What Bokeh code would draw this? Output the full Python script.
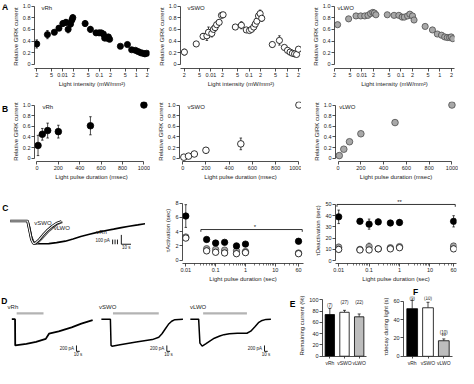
import math
from bokeh.plotting import figure
from bokeh.layouts import column, row
from bokeh.models import (ColumnDataSource, Whisker, TeeHead, FixedTicker,
                          Range1d, FactorRange)
from bokeh.core.properties import value
from bokeh.embed import file_html
from bokeh.resources import INLINE

FONT = "Liberation Sans"
TXT = "#222222"
SX = 458 / 474
SY = 368 / 384

# ---------------- data: panel A (relative GIRK current vs light intensity) ----------------
a_rh_int = [0.002, 0.0039, 0.006, 0.008, 0.0102, 0.0124, 0.0142, 0.0165, 0.018, 0.019,
            0.041, 0.057, 0.081, 0.098, 0.112, 0.128, 0.139, 0.159, 0.175, 0.189,
            0.37, 0.575, 0.75, 0.95, 1.12, 1.31, 1.5, 1.71, 1.92]
a_rh_val = [0.35, 0.51, 0.55, 0.62, 0.70, 0.72, 0.60, 0.69, 0.76, 0.80,
            0.70, 0.60, 0.54, 0.54, 0.54, 0.52, 0.45, 0.45, 0.47, 0.43,
            0.31, 0.34, 0.25, 0.24, 0.22, 0.20, 0.19, 0.18, 0.19]
a_rh_err = [0.07, 0.07, 0.04, 0.04, 0.05, 0.05, 0.06, 0.05, 0.04, 0.05,
            0.05, 0.05, 0.03, 0.03, 0.03, 0.03, 0.04, 0.03, 0.04, 0.03,
            0.03, 0.04, 0.02, 0.02, 0.02, 0.02, 0.02, 0.03, 0.03]

a_swo_int = [0.002, 0.0041, 0.0062, 0.0078, 0.0086, 0.0105, 0.0116, 0.0128, 0.0141, 0.0164,
             0.0189, 0.0208, 0.0437, 0.063, 0.085, 0.103, 0.116, 0.133, 0.146, 0.161,
             0.178, 0.196, 0.216, 0.41, 0.63, 0.85, 1.03, 1.2, 1.38, 1.58, 1.78, 2.0]
a_swo_val = [0.21, 0.35, 0.48, 0.49, 0.55, 0.53, 0.60, 0.63, 0.68, 0.72,
             0.84, 0.85, 0.64, 0.67, 0.59, 0.58, 0.60, 0.64, 0.69, 0.74,
             0.83, 0.87, 0.79, 0.34, 0.41, 0.29, 0.24, 0.21, 0.19, 0.18, 0.17, 0.26]
a_swo_err = [0.05, 0.04, 0.05, 0.08, 0.09, 0.06, 0.04, 0.04, 0.04, 0.04,
             0.03, 0.03, 0.03, 0.06, 0.04, 0.03, 0.03, 0.03, 0.03, 0.04,
             0.05, 0.06, 0.05, 0.04, 0.08, 0.03, 0.02, 0.02, 0.02, 0.02, 0.02, 0.03]

a_lwo_int = [0.0024, 0.0046, 0.0071, 0.0094, 0.0119, 0.0144, 0.0167, 0.0191, 0.021, 0.023,
             0.045, 0.067, 0.089, 0.108, 0.123, 0.149, 0.170, 0.199, 0.218,
             0.42, 0.645, 0.86, 1.1, 1.33, 1.55, 1.77, 1.95, 2.14]
a_lwo_val = [0.68, 0.78, 0.83, 0.83, 0.83, 0.84, 0.87, 0.89, 0.88, 0.85,
             0.85, 0.84, 0.84, 0.81, 0.81, 0.83, 0.86, 0.83, 0.76,
             0.65, 0.59, 0.52, 0.50, 0.47, 0.46, 0.46, 0.47, 0.44]
a_lwo_err = [0.02, 0.02, 0.02, 0.02, 0.02, 0.02, 0.02, 0.02, 0.02, 0.02,
             0.02, 0.02, 0.02, 0.02, 0.02, 0.02, 0.02, 0.02, 0.02,
             0.02, 0.02, 0.02, 0.02, 0.02, 0.02, 0.02, 0.02, 0.02]

a_ticks = [0.002, 0.005, 0.01, 0.02, 0.05, 0.1, 0.2, 0.5, 1.0, 2.0]
a_tick_labels = ["2", "5", "0.01", "2", "5", "0.1", "2", "5", "1", "2"]
rel_ticks = [0.0, 0.2, 0.4, 0.6, 0.8, 1.0]
rel_tick_labels = ["0", "0.2", "0.4", "0.6", "0.8", "1.0"]

# ---------------- data: panel B (relative current vs pulse duration) ----------------
b_dur = [10, 50, 100, 200, 500, 1000]
b_rh_val = [0.24, 0.45, 0.52, 0.50, 0.61, 1.0]
b_rh_err = [0.19, 0.11, 0.14, 0.12, 0.17, 0.0]
b_swo_val = [0.02, 0.04, 0.08, 0.15, 0.27, 1.0]
b_swo_err = [0.01, 0.01, 0.02, 0.05, 0.11, 0.0]
b_lwo_val = [0.05, 0.17, 0.31, 0.46, 0.67, 1.0]
b_lwo_err = [0.01, 0.02, 0.02, 0.02, 0.02, 0.0]
b_ticks = [0, 200, 400, 600, 800, 1000]

# ---------------- data: panel C traces (s, pA) ----------------
c_rh_t = [-18, 0, 2, 4, 6, 9, 14, 22, 30, 39, 47, 55, 64, 72, 80, 89, 97, 105, 114, 122]
c_rh_i = [0, 0, -60, -160, -220, -244, -243, -242, -232, -216, -193, -167, -143, -122,
          -104, -87, -71, -56, -42, -29]
c_swo_t = [-18, 0, 2, 4, 6, 8, 12, 16, 20, 25, 30, 35]
c_swo_i = [0, 0, -100, -200, -240, -238, -200, -150, -105, -60, -25, -5]
c_lwo_t = [0, 2, 4, 7, 10, 14, 18, 22, 27, 31, 36]
c_lwo_i = [0, -90, -190, -242, -235, -195, -150, -105, -62, -30, -10]
c_bar_pA = 100
c_bar_s = 10

# ---------------- data: panel C time constants ----------------
c_dur = [0.01, 0.05, 0.1, 0.2, 0.5, 1.0, 60.0]
act_rh = [6.2, 2.9, 2.4, 2.5, 2.0, 2.25, 2.65]
act_rh_err = [1.6, 0.2, 0.2, 0.2, 0.2, 0.2, 0.3]
act_swo = [3.1, 1.3, 1.1, 1.0, 0.9, 1.05, 0.9]
act_swo_err = [0.3, 0.2, 0.2, 0.1, 0.1, 0.1, 0.1]
act_lwo = [3.25, 1.6, 1.5, 1.4, 1.3, 1.2, 1.0]
act_lwo_err = [0.3, 0.2, 0.2, 0.2, 0.2, 0.2, 0.2]
deact_rh = [39, 35, 32.5, 34.5, 33.5, 34, 35]
deact_rh_err = [6, 1.5, 4.5, 2.5, 1.5, 2.5, 5]
deact_swo = [10, 9.5, 9.5, 10.5, 10.5, 11.5, 10.5]
deact_swo_err = [2, 1, 1, 1, 1, 1, 1]
deact_lwo = [12, 10, 12.5, 10.5, 11.5, 12.5, 13]
deact_lwo_err = [2.5, 1, 3, 1, 1.5, 1, 1]
c_ticks = [0.01, 0.1, 1.0, 10.0, 60.0]
c_tick_labels = ["0.01", "0.1", "1", "10", "60"]
c_minor = [0.02, 0.03, 0.04, 0.05, 0.06, 0.07, 0.08, 0.09, 0.2, 0.3, 0.4, 0.5, 0.6, 0.7,
           0.8, 0.9, 2, 3, 4, 5, 6, 7, 8, 9, 20, 30, 40, 50]
act_sig = ([0.032, 80.0], 4.3, "*")
deact_sig = ([0.0088, 68.0], 50.0, "**")

# ---------------- data: panel D traces (s, pA) ----------------
d_rh_t = [-10, 0, 0.5, 35, 65, 95, 105, 135, 175, 205, 240]
d_rh_i = [0, 0, -896, -840, -776, -672, -496, -416, -280, -152, -32]
d_swo_t = [-28, 0, 2, 5, 30, 80, 130, 150, 160, 170, 180, 190, 200, 225]
d_swo_i = [0, 0, -896, -920, -872, -776, -696, -616, -496, -336, -176, -72, -16, 0]
d_lwo_t = [-26, 0, 4, 11, 22, 36, 49, 66, 79, 96, 121, 151, 163, 176, 187, 196, 211, 226]
d_lwo_i = [0, 0, -816, -920, -840, -736, -648, -576, -528, -496, -480, -480, -408, -256,
           -120, -56, -8, 0]
d_light = {"vRh": (5, 88), "vSWO": (8, 150), "vLWO": (14, 151)}
d_bar_pA = 200
d_bar_s = 10

# ---------------- data: panels E, F ----------------
cats = ["vRh", "vSWO", "vLWO"]
bar_colors = ["#000000", "#ffffff", "#bdbdbd"]
e_val = [74, 78, 70]
e_err = [11, 3.5, 5]
e_n = ["(7)", "(27)", "(22)"]
f_val = [52, 53, 17]
f_err = [9, 6, 2]
f_n = ["(9)", "(10)", "(10)"]
e_ticks = [0, 20, 40, 60, 80, 100]
f_ticks = [0, 20, 40, 60]


# ---------------- helpers ----------------
def make_fig(box, frame, x_range, y_range, x_type="auto", axes=True):
    x0, y0, x1, y1 = box
    w = round(x1 * SX) - round(x0 * SX)
    h = round(y1 * SY) - round(y0 * SY)
    if frame is None:
        bl = bt = br = bb = 0
    else:
        fl, ft, fr, fb = frame
        bl = round(fl * SX)
        bt = round(ft * SY)
        br = w - round(fr * SX)
        bb = h - round(fb * SY)
    kw = dict(width=w, height=h, x_range=x_range, y_range=y_range, x_axis_type=x_type,
              toolbar_location=None, output_backend="svg",
              min_border_left=bl, min_border_right=br, min_border_top=bt,
              min_border_bottom=bb)
    if not axes:
        kw.update(x_axis_location=None, y_axis_location=None)
    p = figure(**kw)
    p.outline_line_color = None
    p.grid.visible = False
    for ax in p.axis:
        ax.axis_line_width = 0.8
        ax.axis_line_color = TXT
        ax.major_tick_line_color = TXT
        ax.minor_tick_line_color = TXT
        ax.major_tick_line_width = 0.8
        ax.minor_tick_line_width = 0.6
        ax.major_tick_in = 0
        ax.major_tick_out = 3
        ax.minor_tick_in = 0
        ax.minor_tick_out = 0
        ax.major_label_text_font = FONT
        ax.major_label_text_font_size = "5.5px"
        ax.major_label_text_color = TXT
        ax.axis_label_text_font = FONT
        ax.axis_label_text_font_size = "6px"
        ax.axis_label_text_font_style = "normal"
        ax.axis_label_text_color = TXT
        ax.major_label_standoff = 1
        ax.axis_label_standoff = 1
    return p


def letter_strip(box, letter_txt, cx, cy):
    """Axis-free strip that carries a bold panel letter (cx, cy in reference px)."""
    x0, y0, x1, y1 = box
    p = make_fig(box, None, Range1d(0, x1 - x0), Range1d(y1 - y0, 0), x_type="linear", axes=False)
    p.text(x=[cx - x0], y=[cy - y0], text=[letter_txt], text_font=value(FONT),
           text_font_size="8.5px", text_font_style="bold", text_align="center",
           text_baseline="middle", text_color="black")
    return p


def ticks(axis, vals, labels, minor=None):
    axis.ticker = FixedTicker(ticks=vals, minor_ticks=minor or [])
    axis.major_label_overrides = {v: l for v, l in zip(vals, labels)}


def errbars(p, xs, ys, es, upper_only=False, head=2.5):
    keep = [(x, y, e) for x, y, e in zip(xs, ys, es) if e > 0]
    xs = [k[0] for k in keep]
    ys = [k[1] for k in keep]
    es = [k[2] for k in keep]
    lo = list(ys) if upper_only else [y - e for y, e in zip(ys, es)]
    src = ColumnDataSource(dict(base=list(xs), lo=lo, hi=[y + e for y, e in zip(ys, es)]))
    w = Whisker(source=src, base="base", lower="lo", upper="hi", dimension="height",
                line_color="black", line_width=0.7)
    w.upper_head = TeeHead(size=head, line_color="black", line_width=0.7)
    w.lower_head = None if upper_only else TeeHead(size=head, line_color="black", line_width=0.7)
    p.add_layout(w)


def txt(p, x, y, s, size="6px", align="left", baseline="middle", color=TXT, style="normal"):
    p.text(x=[x], y=[y], text=[s], text_font=value(FONT), text_font_size=size,
           text_align=align, text_baseline=baseline, text_color=color, text_font_style=style)


STY = {"vRh": dict(fill_color="black", line_color="black"),
       "vSWO": dict(fill_color="white", line_color="black"),
       "vLWO": dict(fill_color="#a8a8a8", line_color="#4d4d4d")}


def dots(p, xs, ys, key, size=6.2):
    p.scatter(xs, ys, marker="circle", size=size, line_width=0.8, **STY[key])


# ---------------- row A ----------------
rowA = [letter_strip((0, 0, 9, 93), "A", 4.5, 4)]
A_spec = [
    ((9, 0, 155, 93), (20.3, 4, 145, 75.3), (0.00174, 2.28), a_rh_int, a_rh_val, a_rh_err, "vRh", 0.0027),
    ((155, 0, 312, 93), (31, 4, 156, 75.3), (0.00158, 2.40), a_swo_int, a_swo_val, a_swo_err, "vSWO", 0.0024),
    ((312, 0, 474, 93), (34, 4, 158, 75.3), (0.002, 2.37), a_lwo_int, a_lwo_val, a_lwo_err, "vLWO", 0.0024),
]
for box, frame, xr, xs, ys, es, key, lx in A_spec:
    p = make_fig(box, frame, Range1d(*xr), Range1d(-0.071, 1.026), x_type="log")
    ticks(p.xaxis[0], a_ticks, a_tick_labels)
    ticks(p.yaxis[0], rel_ticks, rel_tick_labels)
    p.yaxis.bounds = (0, 1)
    p.xaxis.axis_label = "Light intensity (mW/mm\u00b2)"
    p.yaxis.axis_label = "Relative GIRK current"
    errbars(p, xs, ys, es)
    dots(p, xs, ys, key)
    txt(p, lx, 0.965, key)
    rowA.append(p)

# ---------------- row B ----------------
rowB = [letter_strip((0, 93, 9, 190), "B", 4.5, 105)]
B_spec = [
    ((9, 93, 155, 190), (19.3, 12, 144, 80), (-23, 1043), b_rh_val, b_rh_err, "vRh", 51),
    ((155, 93, 312, 190), (30, 12, 156, 80), (-27.5, 1022), b_swo_val, b_swo_err, "vSWO", 42),
    ((312, 93, 474, 190), (35.3, 12, 160, 80), (-23, 1040), b_lwo_val, b_lwo_err, "vLWO", 9),
]
for box, frame, xr, ys, es, key, lx in B_spec:
    p = make_fig(box, frame, Range1d(*xr), Range1d(-0.061, 1.066))
    ticks(p.xaxis[0], b_ticks, [str(v) for v in b_ticks])
    ticks(p.yaxis[0], rel_ticks, rel_tick_labels)
    p.yaxis.bounds = (0, 1)
    p.xaxis.bounds = (0, 1000)
    p.xaxis.axis_label = "Light pulse duration (msec)"
    p.yaxis.axis_label = "Relative GIRK current"
    errbars(p, b_dur, ys, es)
    dots(p, b_dur, ys, key, size=6.6)
    txt(p, lx, 0.955, key)
    rowB.append(p)

# ---------------- row C ----------------
c1 = make_fig((0, 190, 150, 296), None, Range1d(-28, 122), Range1d(-455, 251),
              x_type="linear", axes=False)
c1.line(c_rh_t, c_rh_i, line_color="black", line_width=1.6)
c1.line(c_lwo_t, c_lwo_i, line_color="#555555", line_width=2.4)
c1.line(c_lwo_t, c_lwo_i, line_color="#bdbdbd", line_width=1.0)
c1.line(c_swo_t, c_swo_i, line_color="black", line_width=2.6)
c1.line(c_swo_t, c_swo_i, line_color="white", line_width=1.1)
txt(c1, 7, -20, "vSWO")
txt(c1, 27, -75, "vLWO")
txt(c1, 71, -122, "vRh")
c1.segment(x0=[97], y0=[-249], x1=[97], y1=[-249 + c_bar_pA * 1.0], line_color="black", line_width=0.9)
c1.segment(x0=[97], y0=[-249], x1=[97 + c_bar_s], y1=[-249], line_color="black", line_width=0.9)
c1.segment(x0=[88, 90.5, 93], y0=[-249] * 3, x1=[88, 90.5, 93], y1=[-249 + c_bar_pA * 0.5] * 3,
           line_color="black", line_width=0.9)
txt(c1, 85, -205, f"{c_bar_pA} pA", size="4.5px", align="right")
txt(c1, 102, -262, f"{c_bar_s} s", size="4.5px", align="center", baseline="top")
txt(c1, -23, 140, "C", size="8.5px", align="center", color="black", style="bold")


def tau_panel(box, frame, xr, yr, yt, ylabel, series, sig, ybounds):
    p = make_fig(box, frame, Range1d(*xr), Range1d(*yr), x_type="log")
    ticks(p.xaxis[0], c_ticks, c_tick_labels, c_minor)
    p.xaxis.minor_tick_out = 2
    ticks(p.yaxis[0], yt, [str(v) for v in yt])
    p.yaxis.bounds = ybounds
    p.xaxis.axis_label = "Light pulse duration (sec)"
    p.yaxis.axis_label = ylabel
    for ys, es, key in series:
        errbars(p, c_dur, ys, es)
    for ys, es, key in series:
        dots(p, c_dur, ys, key, size=6.4)
    (xa, xb), yb, s = sig
    drop = (yr[1] - yr[0]) * 0.035
    p.line([xa, xa, xb, xb], [yb - drop, yb, yb, yb - drop], line_color="black", line_width=0.8)
    txt(p, (xa * xb) ** 0.5 * 1.3, yb + drop * 1.2, s, size="6px", align="center")
    return p


c2 = tau_panel((150, 190, 320, 296), (38.3, 16, 164, 88), (0.00776, 88), (-0.48, 8.81),
               [0, 2, 4, 6, 8], "\u03c4Activation (sec)",
               [(act_lwo, act_lwo_err, "vLWO"), (act_swo, act_swo_err, "vSWO"),
                (act_rh, act_rh_err, "vRh")], act_sig, (0, 8))
c3 = tau_panel((320, 190, 474, 296), (26.7, 12, 152, 88.3), (0.00786, 74.7), (-2.54, 56.2),
               [0, 10, 20, 30, 40, 50], "\u03c4Deactivation (sec)",
               [(deact_lwo, deact_lwo_err, "vLWO"), (deact_swo, deact_swo_err, "vSWO"),
                (deact_rh, deact_rh_err, "vRh")], deact_sig, (0, 50))

# ---------------- row D ----------------
rowD = []
D_spec = [
    ((0, 296, 100, 384), (-45, 255), d_rh_t, d_rh_i, "vRh", -23, 190, 1.8),
    ((100, 296, 192, 384), (-40, 236), d_swo_t, d_swo_i, "vSWO", -35, 175, 1.5),
    ((192, 296, 290, 384), (-38, 256), d_lwo_t, d_lwo_i, "vLWO", -27, 206, 1.5),
]
for i, (box, xr, ts, cs, key, lx, sbx, lw) in enumerate(D_spec):
    p = make_fig(box, None, Range1d(*xr), Range1d(-1272, 840), x_type="linear", axes=False)
    la, lb = d_light[key]
    p.line([la, lb], [200, 200], line_color="#b3b3b3", line_width=2.2)
    p.line(ts, cs, line_color="black", line_width=lw)
    txt(p, lx, 424, key)
    base = -1096
    p.segment(x0=[sbx], y0=[base], x1=[sbx], y1=[base + d_bar_pA], line_color="black", line_width=0.9)
    p.segment(x0=[sbx], y0=[base], x1=[sbx + d_bar_s], y1=[base], line_color="black", line_width=0.9)
    txt(p, sbx - 8, base + 110, f"{d_bar_pA} pA", size="4.5px", align="right")
    txt(p, sbx + 5, base - 30, f"{d_bar_s} s", size="4.5px", align="center", baseline="top")
    if i == 0:
        txt(p, -33, 624, "D", size="8.5px", align="center", color="black", style="bold")
    rowD.append(p)

# ---------------- E ----------------
stripE = letter_strip((290, 296, 306, 384), "E", 302, 309)
pe = make_fig((306, 296, 385, 384), (22, 10, 72, 78), FactorRange(*cats, range_padding=0),
              Range1d(-0.5, 109.6))
ticks(pe.yaxis[0], e_ticks, [str(v) for v in e_ticks])
pe.yaxis.bounds = (0, 100)
pe.xaxis.major_tick_out = 2
pe.xaxis.major_label_text_font_size = "5px"
pe.yaxis.axis_label = "Remaining current (%)"
errbars(pe, cats, e_val, e_err, upper_only=True, head=3)
pe.vbar(x=cats, top=e_val, width=0.64, fill_color=bar_colors, line_color="black", line_width=0.8)
pe.text(x=cats, y=[90, 96, 96], text=e_n, text_font=value(FONT), text_font_size="4.5px",
        text_align="center", text_baseline="middle", text_color=TXT)

# ---------------- F ----------------
stripF = letter_strip((385, 296, 474, 309), "F", 407, 304)
pf = make_fig((385, 309, 474, 384), (32, 0, 83, 65.5), FactorRange(*cats, range_padding=0.0333),
              Range1d(-0.2, 65.3))
ticks(pf.yaxis[0], f_ticks, [str(v) for v in f_ticks])
pf.yaxis.bounds = (0, 60)
pf.xaxis.major_tick_out = 2
pf.xaxis.major_label_text_font_size = "5px"
pf.yaxis.axis_label = "\u03c4decay during light (s)"
errbars(pf, cats, f_val, f_err, upper_only=True, head=3)
pf.vbar(x=cats, top=f_val, width=0.68, fill_color=bar_colors, line_color="black", line_width=0.8)
pf.text(x=cats, y=[63, 63, 26.5], text=f_n, text_font=value(FONT), text_font_size="4.5px",
        text_align="center", text_baseline="middle", text_color=TXT)
txt(pf, "vLWO", 22, "**", size="6px", align="center")

layout = column(row(*rowA), row(*rowB), row(c1, c2, c3),
                row(*rowD, stripE, pe, column(stripF, pf)))
open("out.html", "w").write(file_html(layout, INLINE))
